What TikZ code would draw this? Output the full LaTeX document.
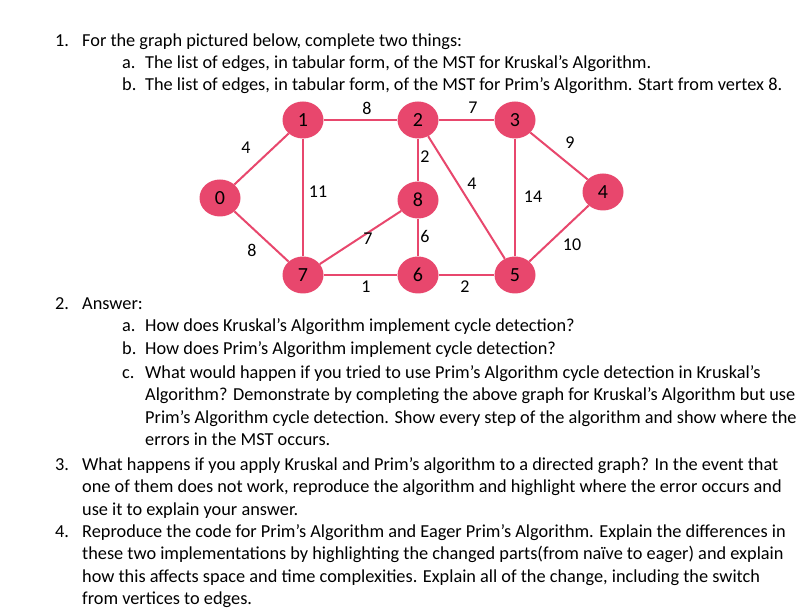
\documentclass[tikz,border=0pt]{standalone}
\usepackage{fontspec}
\setmainfont{Carlito}
\usetikzlibrary{shapes.geometric}
\begin{document}
\begin{tikzpicture}[x=1pt,y=-1pt,
  txt/.style={anchor=base west,inner sep=0pt,font=\fontsize{18.3}{20}\selectfont},
  vtx/.style={ellipse,fill=gnode,minimum width=41pt,minimum height=37pt,inner sep=0pt,font=\fontsize{20}{22}\selectfont},
  edg/.style={draw=gnode,line width=2pt},
  wl/.style={font=\fontsize{18}{20}\selectfont,inner sep=1pt}]
\definecolor{gnode}{HTML}{E8476D}
\useasboundingbox (0,0) rectangle (809,612);
\fill[white] (0,0) rectangle (809,612);
% text
\node[txt] (t1n) at (55,47) {1.};
\node[txt] (t1) at (82,47) {For the graph pictured below, complete two things:};
\node[txt] (t1a) at (122,69) {a.};
\node[txt] (t1at) at (145,69) {The list of edges, in tabular form, of the MST for Kruskal’s Algorithm.};
\node[txt] (t1b) at (122,91) {b.};
\node[txt] (t1bt) at (145,91) {The list of edges, in tabular form, of the MST for Prim’s Algorithm. Start from vertex 8.};
\node[txt] (t2n) at (55,310) {2.};
\node[txt] (t2) at (82,310) {Answer:};
\node[txt] (t2a) at (122,332) {a.};
\node[txt] (t2at) at (145,332) {How does Kruskal’s Algorithm implement cycle detection?};
\node[txt] (t2b) at (122,355) {b.};
\node[txt] (t2bt) at (145,355) {How does Prim’s Algorithm implement cycle detection?};
\node[txt] (t2c) at (122,378) {c.};
\node[txt] (t2c1) at (145,378) {What would happen if you tried to use Prim’s Algorithm cycle detection in Kruskal’s};
\node[txt] (t2c2) at (145,401) {Algorithm? Demonstrate by completing the above graph for Kruskal’s Algorithm but use};
\node[txt] (t2c3) at (145,423) {Prim’s Algorithm cycle detection. Show every step of the algorithm and show where the};
\node[txt] (t2c4) at (145,446) {errors in the MST occurs.};
\node[txt] (t3n) at (55,470) {3.};
\node[txt] (t31) at (82,470) {What happens if you apply Kruskal and Prim’s algorithm to a directed graph? In the event that};
\node[txt] (t32) at (82,492) {one of them does not work, reproduce the algorithm and highlight where the error occurs and};
\node[txt] (t33) at (82,515) {use it to explain your answer.};
\node[txt] (t4n) at (55,537) {4.};
\node[txt] (t41) at (82,537) {Reproduce the code for Prim’s Algorithm and Eager Prim’s Algorithm. Explain the differences in};
\node[txt] (t42) at (82,559) {these two implementations by highlighting the changed parts(from naïve to eager) and explain};
\node[txt] (t43) at (82,582) {how this affects space and time complexities. Explain all of the change, including the switch};
\node[txt] (t44) at (82,604) {from vertices to edges.};
% graph
\node[vtx] (v0) at (220,198) {0};
\node[vtx] (v1) at (303,120) {1};
\node[vtx] (v2) at (418,120) {2};
\node[vtx] (v3) at (515,120) {3};
\node[vtx] (v4) at (603,192) {4};
\node[vtx] (v8) at (418,200) {8};
\node[vtx] (v7) at (303,275) {7};
\node[vtx] (v6) at (418,275) {6};
\node[vtx] (v5) at (515,275) {5};
\draw[edg] (v0) -- (v1); \draw[edg] (v0) -- (v7);
\draw[edg] (v1) -- (v2); \draw[edg] (v1) -- (v7);
\draw[edg] (v2) -- (v3); \draw[edg] (v2) -- (v8); \draw[edg] (v2) -- (v5);
\draw[edg] (v3) -- (v4); \draw[edg] (v3) -- (v5);
\draw[edg] (v4) -- (v5);
\draw[edg] (v8) -- (v7); \draw[edg] (v8) -- (v6);
\draw[edg] (v7) -- (v6); \draw[edg] (v6) -- (v5);
\node[wl] (w12) at (367,108) {8};
\node[wl] (w23) at (473,108) {7};
\node[wl] (w01) at (246,148) {4};
\node[wl] (w17) at (318,192) {11};
\node[wl] (w28) at (425,157) {2};
\node[wl] (w25) at (472,184) {4};
\node[wl] (w35) at (533,197) {14};
\node[wl] (w34) at (570,143) {9};
\node[wl] (w45) at (572,245) {10};
\node[wl] (w07) at (252,250) {8};
\node[wl] (w78) at (368,239) {7};
\node[wl] (w86) at (425,236) {6};
\node[wl] (w76) at (366,287) {1};
\node[wl] (w65) at (465,287) {2};
\end{tikzpicture}
\end{document}
